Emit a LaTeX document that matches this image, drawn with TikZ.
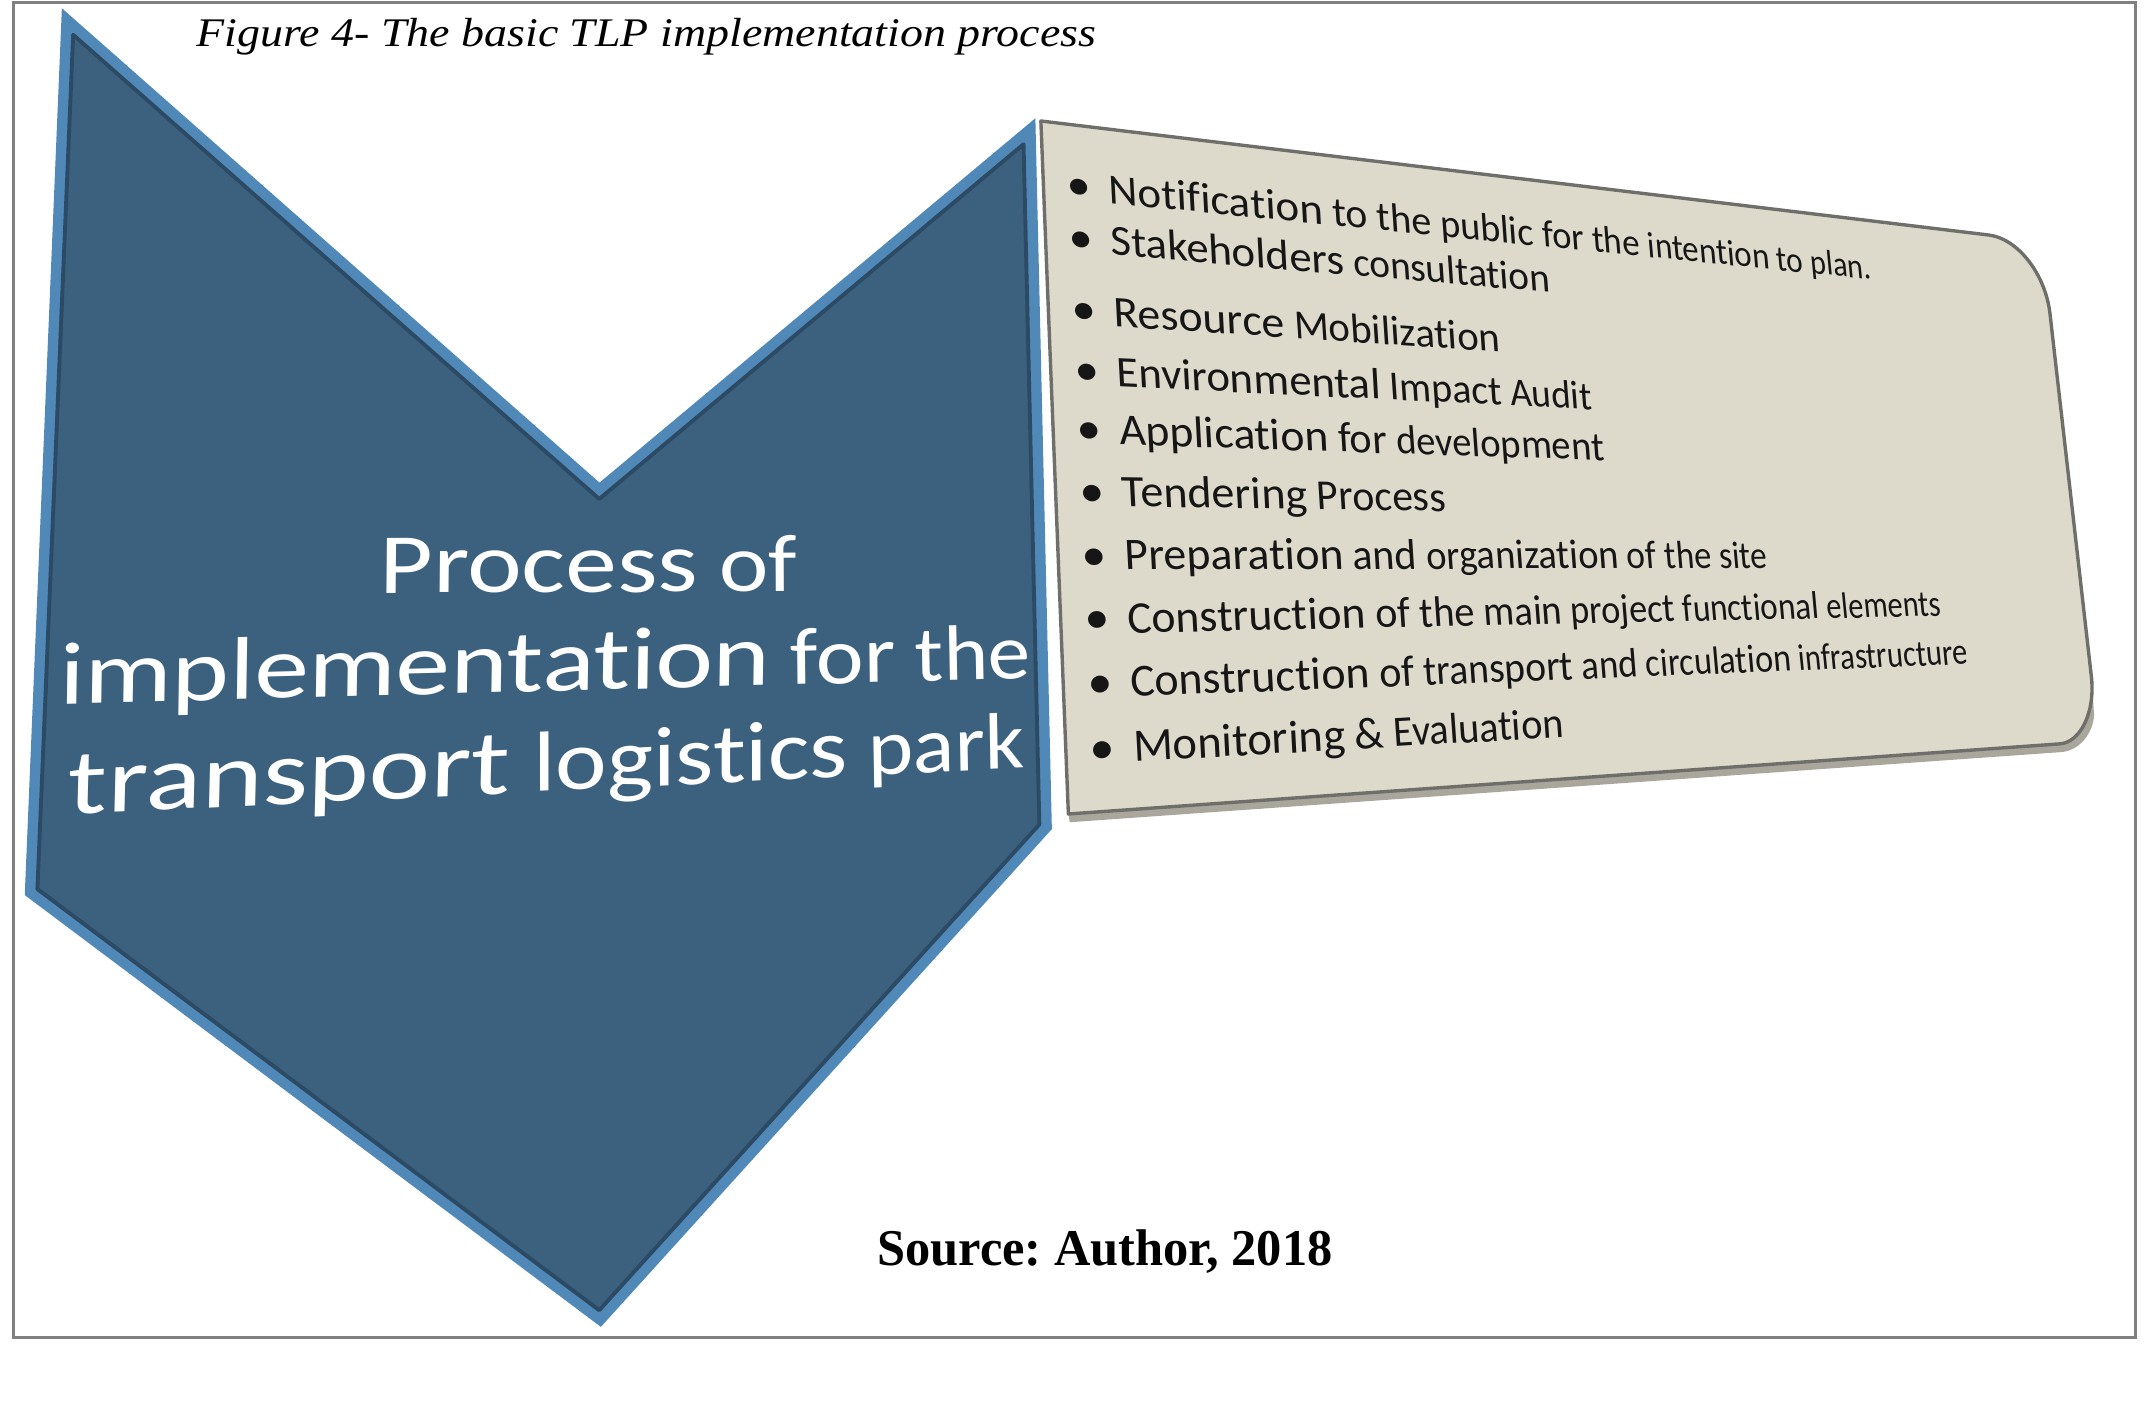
\documentclass[tikz,border=0pt]{standalone}
\usepackage{fontspec}
\setmainfont{Liberation Serif}
\newfontfamily\calib[Ligatures={NoCommon}]{Carlito}
\usepackage{graphicx}
\definecolor{chevmain}{HTML}{3B617F}
\definecolor{chevlight}{HTML}{5088B8}
\definecolor{chevdark}{HTML}{2C4A63}
\definecolor{beige}{HTML}{DEDACB}
\definecolor{beigeedge}{HTML}{6E6E6A}
\definecolor{beigeshadow}{HTML}{A9A69C}
\definecolor{bultext}{HTML}{161616}
\definecolor{framegray}{HTML}{808080}
\newdimen\wlen
\newcounter{wc}
\newcommand\setH[8]{\def\Ha{(#1)}\def\Hb{(#2)}\def\Hc{(#3)}\def\Hd{(#4)}\def\He{(#5)}\def\Hf{(#6)}\def\Hg{(#7)}\def\Hh{(#8)}}
\newcommand\setHU[3]{\def\HU{#1}\def\HV{#2}\def\HS{#3}}
\def\Hfont{}
% width of a text: \wpt (pt) and in local u units \wu
\newcommand\measureu[1]{%
  \pgfinterruptpicture\global\setbox1=\hbox{\Hfont #1}\endpgfinterruptpicture
  \wlen=\wd1\relax
  \edef\wpt{\the\wlen}%
  \pgfmathsetmacro\wu{\HS*\wpt/28.4528*100/\HU}%
}
% map local (u,v) -> \HX,\HY (and \HD)
\newcommand\hmap[2]{%
  \pgfmathsetmacro\HD{1+\Hg*(#1)+\Hh*(#2)}%
  \pgfmathsetmacro\HX{(\Ha*(#1)+\Hb*(#2)+\Hc)/\HD}%
  \pgfmathsetmacro\HY{(\Hd*(#1)+\He*(#2)+\Hf)/\HD}%
}
% place text centred (base anchor) at local (u,v)
\newcommand\hword[3]{%
  \hmap{#1}{#2}%
  \pgfmathsetmacro\Ja{\HS*(\Ha-\Hg*\HX)/(\HD*\HU)}%
  \pgfmathsetmacro\Jb{-\HS*(\Hd-\Hg*\HY)/(\HD*\HU)}%
  \pgfmathsetmacro\Jc{-(\Hb-\Hh*\HX)/(\HD*\HV)}%
  \pgfmathsetmacro\Jd{(\He-\Hh*\HY)/(\HD*\HV)}%
  \stepcounter{wc}%
  \node[word, anchor=base, shift={(\HX,\HY)}, cm={\Ja,\Jb,\Jc,\Jd,(0,0)}] (w\arabic{wc}) at (0,0) {\Hfont #3};%
}
% place text spanning local u0..u1 on baseline v (needs \wpt of the text)
\newcommand\hspan[4]{%
  \pgfmathsetmacro\Wpx{\wpt/28.4528*100}%
  \hmap{#2}{#3}\let\Xb\HX\let\Yb\HY
  \hmap{#1}{#3}\let\Xa\HX\let\Ya\HY
  \pgfmathsetmacro\Ja{(\Xb-\Xa)/\Wpx}%
  \pgfmathsetmacro\Jb{-(\Yb-\Ya)/\Wpx}%
  \pgfmathsetmacro\um{0.5*(#1+#2)}%
  \hmap{\um}{#3}%
  \pgfmathsetmacro\Jc{-(\Hb-\Hh*\HX)/(\HD*\HV)}%
  \pgfmathsetmacro\Jd{(\He-\Hh*\HY)/(\HD*\HV)}%
  \stepcounter{wc}%
  \node[word, anchor=base west, shift={(\Xa,\Ya)}, cm={\Ja,\Jb,\Jc,\Jd,(0,0)}] (w\arabic{wc}) at (0,0) {\Hfont #4};%
}
\newcommand\wline[3]{%
  \xdef\curu{#1}%
  \foreach \w in {#3}{%
    \measureu{\w}%
    \pgfmathsetmacro\endu{\curu+\wu}%
    \hspan{\curu}{\endu}{#2}{\w}%
    \measureu{\w\ }%
    \pgfmathsetmacro\nextu{\curu+\wu}%
    \xdef\curu{\nextu}%
  }%
}
\newcommand\cwline[3]{%
  \measureu{#2}%
  \pgfmathsetmacro\startu{0.5-0.5*\wu}%
  \wline{\startu}{#1}{#3}%
}
\newcommand\bline[2]{\hword{0.026}{#1}{\textbullet}\wline{0.048}{#1}{#2}}
\tikzset{
  word/.style={inner sep=0pt, outer sep=0pt, transform shape},
  framestyle/.style={draw=framegray, line width=0.6pt},
  chevouter/.style={fill=chevlight},
  chevinner/.style={fill=chevmain, draw=chevdark, line width=0.8pt, line join=round},
  boxshade/.style={fill=beigeshadow},
  boxstyle/.style={fill=beige, draw=beigeedge, line width=0.7pt, line join=round},
  caption/.style={anchor=base west, inner sep=0pt, outer sep=0pt}
}
\begin{document}
\begin{tikzpicture}[x=0.01cm, y=-0.01cm]
\useasboundingbox[fill=white] (0,0) rectangle (1568,1023.3);
% frame
\draw[framestyle] (10,2) rectangle (1553,973);
% title
\node[caption] (title) at (143,34) {\resizebox{6.54cm}{0.205cm}{\itshape\frenchspacing Figure 4- The basic TLP implementation process}};
% chevron
\fill[chevouter] (45,6) -- (436,351) -- (753,86) -- (765,603) -- (437,965) -- (18,651) -- cycle;
\filldraw[chevinner] (53.2,25.3) -- (435.8,362.9) -- (744.4,104.9) -- (755.9,599.6) -- (435.8,952.9) -- (27.2,646.6) -- cycle;
% beige box
\fill[boxshade] (778,598) -- (1499,547) .. controls (1512,546) and (1522,534) .. (1523,520) -- (1521,492) -- (1498,541) -- (777,592) -- cycle;
\draw[boxstyle] (757,88) -- (1447,171) .. controls (1468,174) and (1488,200) .. (1491,229) -- (1521,492) .. controls (1524,518) and (1513,540) .. (1498,541) -- (777,592) -- cycle;
% chevron text
\setH{890.5}{-28.0}{45}{100.84}{608.48}{6}{0.24237}{-0.05610}
\setHU{908}{644.5}{1.35}
\def\Hfont{\calib\fontsize{19.35}{23}\selectfont\color{white}}
\cwline{0.674}{Process of}{Process,of}
\cwline{0.795}{implementation for the}{implementation,for,the}
\cwline{0.916}{transport logistics park}{transport,logistics,park}
% bullet text
\setH{1294.2}{-18.0}{757}{155.1}{475.0}{88}{0.38129}{-0.04891}
\setHU{1027}{504}{1.077}
\def\Hfont{\calib\fontsize{9.67}{12}\selectfont\color{bultext}}
\bline{0.1140}{Notification,to,the,public,for,the,intention,to,plan.}
\bline{0.1927}{Stakeholders,consultation}
\bline{0.3008}{Resource,Mobilization}
\bline{0.3904}{Environmental,Impact,Audit}
\bline{0.4768}{Application,for,development}
\bline{0.5675}{Tendering,Process}
\bline{0.6596}{Preparation,and,organization,of,the,site}
\bline{0.7506}{Construction,of,the,main,project,functional,elements}
\bline{0.8416}{Construction,of,transport,and,circulation,infrastructure}
\bline{0.9337}{Monitoring,\&,Evaluation}
% source
\node[caption] (src) at (638,920) {\resizebox{3.31cm}{0.26cm}{\bfseries\frenchspacing Source: Author, 2018}};
\end{tikzpicture}
\end{document}
